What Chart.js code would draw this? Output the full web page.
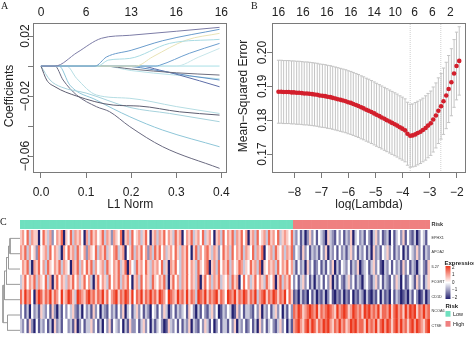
<!DOCTYPE html>
<html>
<head>
<meta charset="utf-8">
<script src="https://cdn.jsdelivr.net/npm/chart.js@4.4.1/dist/chart.umd.min.js"></script>
<style>
html, body { margin: 0; padding: 0; background: #fff; }
#wrap { position: relative; width: 474px; height: 338px; overflow: hidden; }
canvas { position: absolute; }
.tag { position: absolute; font-family: 'Liberation Serif', serif; font-size: 10px; color: #222; line-height: 1; }
</style>
</head>
<body>
<div id="wrap">
  <canvas id="cA" width="237" height="210" style="left:0;top:0"></canvas>
  <canvas id="cB" width="237" height="210" style="left:237px;top:0"></canvas>
  <canvas id="cH" width="474" height="128" style="left:0;top:210px"></canvas>
  <canvas id="cD" width="20" height="128" style="left:0;top:210px"></canvas>
  <div class="tag" style="left:1px;top:1px">A</div>
  <div class="tag" style="left:251px;top:1px">B</div>
  <div class="tag" style="left:0;top:217px">C</div>
</div>
<script>
Chart.defaults.font.family = '"Liberation Sans", Arial, sans-serif';
Chart.defaults.color = '#222';

// ---- panel A: coefficient paths ----
const l1Ticks = [0, 0.1, 0.2, 0.3, 0.4];
const l1TopLabels = ['0', '6', '13', '16', '16'];
const coefTicks = [0.02, 0, -0.02, -0.04, -0.06];
const coefTickLabels = ['0.02', '', '\u22120.02', '', '\u22120.06'];

const coefPaths = [
    [[0, 0], [0.031, 0], [0.08, 0.009], [0.134, 0.0185], [0.197, 0.0205], [0.30, 0.0232], [0.396, 0.0258]],
    [[0, 0], [0.12, 0], [0.145, 0.006], [0.2, 0.0105], [0.27, 0.0169], [0.396, 0.0245]],
    [[0, 0], [0.125, 0], [0.15, 0.004], [0.197, 0.0051], [0.285, 0.0151], [0.396, 0.0178]],
    [[0, 0], [0.21, 0], [0.248, 0.0062], [0.322, 0.0173], [0.396, 0.0218]],
    [[0, 0], [0.255, 0], [0.263, 0.0005], [0.329, 0.0085], [0.396, 0.0151]],
    [[0, 0], [0.3, 0], [0.35, 0.006], [0.396, 0.0118]],
    [[0, 0], [0.396, 0]],
    [[0, 0], [0.138, 0], [0.2, -0.002], [0.3, -0.0045], [0.396, -0.006]],
    [[0, 0], [0.18, 0], [0.26, -0.003], [0.33, -0.0065], [0.396, -0.0093]],
    [[0, 0], [0.22, 0], [0.263, -0.0027], [0.307, -0.006], [0.396, -0.0138]],
    [[0, 0], [0.0126, -0.0093], [0.031, -0.0138], [0.079, -0.02], [0.16, -0.026], [0.219, -0.0267], [0.307, -0.0305], [0.396, -0.0327]],
    [[0, 0], [0.057, 0], [0.079, -0.0082], [0.123, -0.0193], [0.197, -0.0215], [0.3, -0.027], [0.396, -0.0316]],
    [[0, 0], [0.02, -0.0093], [0.045, -0.014], [0.1, -0.018], [0.197, -0.0276], [0.285, -0.0316], [0.396, -0.0371]],
    [[0, 0], [0.04, 0], [0.064, -0.0127], [0.123, -0.0227], [0.197, -0.0338], [0.27, -0.0427], [0.396, -0.0538]],
    [[0, 0], [0.031, 0], [0.049, -0.0093], [0.079, -0.0193], [0.123, -0.0271], [0.152, -0.0304], [0.197, -0.0404], [0.27, -0.0538], [0.396, -0.0682]],
    [[0, 0], [0.14, 0], [0.2, -0.003], [0.396, -0.0085]],
];
const PATH_COLORS = ['#7c7ca6', '#6a9ccc', '#a9dbe3', '#e9e3b6', '#6d9fcf', '#c7e6ea', '#a8dfe6', '#6e6e7e',
    '#5f8fc4', '#5e6ea8', '#5d5d70', '#b5dde3', '#a6d2dc', '#8ec6d8', '#6a6a80', '#b9e2e8'];

// ---- panel B: cross-validation curve ----
const logLambda = [-8.58, -8.48, -8.39, -8.29, -8.20, -8.10, -8.01, -7.91, -7.82, -7.72,
    -7.63, -7.53, -7.44, -7.34, -7.25, -7.15, -7.06, -6.96, -6.86, -6.77,
    -6.67, -6.58, -6.48, -6.39, -6.29, -6.20, -6.10, -6.01, -5.91, -5.82,
    -5.72, -5.63, -5.53, -5.44, -5.34, -5.25, -5.15, -5.05, -4.96, -4.86,
    -4.77, -4.67, -4.58, -4.48, -4.39, -4.29, -4.20, -4.10, -4.01, -3.91,
    -3.82, -3.72, -3.63, -3.53, -3.44, -3.34, -3.25, -3.15, -3.06, -2.96,
    -2.87, -2.77, -2.68, -2.58, -2.49, -2.39, -2.30, -2.20, -2.10, -2.01, -1.91];
const cvMse = [0.1884, 0.1884, 0.1883, 0.1883, 0.1883, 0.1882, 0.1882, 0.1881, 0.1881, 0.1880,
    0.1879, 0.1879, 0.1878, 0.1877, 0.1876, 0.1875, 0.1873, 0.1872, 0.1871, 0.1869,
    0.1868, 0.1866, 0.1864, 0.1862, 0.1860, 0.1858, 0.1856, 0.1853, 0.1851, 0.1848,
    0.1845, 0.1842, 0.1838, 0.1835, 0.1831, 0.1828, 0.1824, 0.1820, 0.1816, 0.1812,
    0.1808, 0.1804, 0.1800, 0.1796, 0.1792, 0.1788, 0.1784, 0.1779, 0.1775, 0.1770,
    0.1760, 0.1754, 0.1755, 0.1758, 0.1762, 0.1766, 0.1771, 0.1777, 0.1784, 0.1791,
    0.1802, 0.1814, 0.1828, 0.1841, 0.1856, 0.1873, 0.1892, 0.1912, 0.1938, 0.1960, 0.1975];
const cvSe = [0.0093, 0.0093, 0.0093, 0.0093, 0.0093, 0.0093, 0.0093, 0.0093, 0.0093, 0.0093,
    0.0093, 0.0093, 0.0093, 0.0093, 0.0093, 0.0093, 0.0093, 0.0093, 0.0093, 0.0093,
    0.0093, 0.0093, 0.0093, 0.0093, 0.0093, 0.0093, 0.0093, 0.0093, 0.0093, 0.0093,
    0.0093, 0.0093, 0.0093, 0.0093, 0.0093, 0.0093, 0.0093, 0.0093, 0.0093, 0.0093,
    0.0093, 0.0093, 0.0093, 0.0093, 0.0093, 0.0093, 0.0093, 0.0093, 0.0093, 0.0093,
    0.0093, 0.0093, 0.0093, 0.0094, 0.0094, 0.0094, 0.0094, 0.0095, 0.0095, 0.0095,
    0.0096, 0.0096, 0.0097, 0.0097, 0.0098, 0.0098, 0.0099, 0.0099, 0.0100, 0.0100, 0.0101];
const lambdaMin = -3.72;
const lambda1se = -2.59;
const lambdaTicks = [-8, -7, -6, -5, -4, -3, -2];
const mseTicks = [0.17, 0.18, 0.19, 0.20];
const mseTickLabels = ['0.17', '0.18', '0.19', '0.20'];
const nzeroAt = [-8.58, -7.68, -6.79, -5.91, -5.05, -4.27, -3.56, -2.90, -2.24];
const nzeroLabels = ['16', '16', '16', '16', '14', '10', '6', '6', '2'];

// ---- panel C: heatmap ----
const genes = ['EPHX1', 'APOA2', 'IL27', 'FCGRT', 'CD1D', 'NCOA6', 'CTSE'];
const nLow = 120;
const nHigh = 60;
// one digit per sample, value = (digit - 4) / 2, i.e. 0 = -2 ... 8 = +2
const exprLow = [
    '564736550475362465705473656406375645736526547056374563574056365746537560465735647356405637465736574605637456375647356547',
    '657364527456374653064756375462654736573546735604573657462637574635647536574057364675365247563746573654736570456375463657',
    '465730657463754657365406573647573645637546573570643756475365647350657436574653754670563746573645763547563705465637465746',
    '357465736547360574653657463574630574653746573657405637465375465730574636574653705746365735463756047463574653754605736574',
    '758674068757685764856875387657867576857467857687584768576867587648765867585763876857678576487685768757683678576875768475',
    '241304231532415203142435213042315240321423142503413524132043142530241323415420314213524013243015241332142503241352403142',
    '324152041324130523144231502413352413042514324031522413524031342015324141325032142531402413314250324124130524134213524031',
];
const exprHigh = [
    '324130252414320532142413250342314203524123041342514213024314',
    '243152413231425032414231352413241305231435241324031432524132',
    '314230524124131425031432413250234135241032414231524132034215',
    '241352413032414250314213524132034213524132142530412431524135',
    '120312041302130241021302140213203102140312041320120314201302',
    '768756787685767876586787568767587867685776857867586878576867',
    '678657868757687865768675687867758676857868757868675786876578',
];
const riskNames = ['Low', 'High'];
const RISK_COLORS = ['#6fe0bf', '#ef8080'];

// dendrogram merges: [yA, hA, yB, hB, h] in row units / pixel heights
const dendroMerges = [
    [0.5, 0, 1.5, 0, 10],
    [1.0, 10, 2.5, 0, 11.5],
    [1.75, 11.5, 3.5, 0, 13.5],
    [2.625, 13.5, 4.5, 0, 15.5],
    [5.5, 0, 6.5, 0, 12.5],
    [3.56, 15.5, 6.0, 12.5, 17],
];

const AXIS_GREY = '#7a7a7a';
const TXT = { size: 12 };

function frame(cfg) {
    return {
        id: 'rframe',
        afterDraw(chart) {
            const { ctx, chartArea: a } = chart;
            const y = chart.scales.y;
            ctx.save();
            ctx.strokeStyle = AXIS_GREY;
            ctx.lineWidth = 1;
            ctx.strokeRect(Math.round(a.left) + 0.5, Math.round(a.top) + 0.5,
                Math.round(a.right - a.left) - 1, Math.round(a.bottom - a.top) - 1);
            ctx.fillStyle = '#222';
            ctx.font = '12px "Liberation Sans", Arial, sans-serif';
            ctx.textAlign = 'center';
            ctx.textBaseline = 'middle';
            cfg.ticks.forEach((v, i) => {
                if (!cfg.labels[i]) return;
                ctx.save();
                ctx.translate(cfg.labelX, y.getPixelForValue(v));
                ctx.rotate(-Math.PI / 2);
                ctx.fillText(cfg.labels[i], 0, 0);
                ctx.restore();
            });
            ctx.translate(cfg.titleX, (a.top + a.bottom) / 2 - 2);
            ctx.rotate(-Math.PI / 2);
            ctx.fillText(cfg.title, 0, 0);
            ctx.restore();
        },
    };
}

function setTicks(values) {
    return s => { s.ticks = values.map(v => ({ value: v })); };
}

function initPaths() {
    const xr = { min: -0.0177, max: 0.4133 };
    new Chart(document.getElementById('cA'), {
        type: 'line',
        data: {
            datasets: coefPaths.map((p, i) => ({
                data: p.map(([x, y]) => ({ x, y })),
                borderColor: PATH_COLORS[i],
                borderWidth: 1,
                pointRadius: 0,
                cubicInterpolationMode: 'monotone',
            })),
        },
        options: {
            responsive: false,
            animation: false,
            events: [],
            layout: { padding: { right: 9 } },
            plugins: { legend: { display: false }, tooltip: { enabled: false } },
            scales: {
                x: {
                    type: 'linear', position: 'bottom', ...xr,
                    afterBuildTicks: setTicks(l1Ticks),
                    afterFit: s => { s.height = 37; },
                    ticks: { callback: v => v.toFixed(1), font: TXT, padding: 7, maxRotation: 0, autoSkip: false },
                    grid: { drawOnChartArea: false, tickLength: 5, color: AXIS_GREY },
                    border: { display: false },
                    title: { display: true, text: 'L1 Norm', font: TXT, padding: { top: 0, bottom: -2 } },
                },
                xTop: {
                    type: 'linear', position: 'top', ...xr,
                    afterBuildTicks: setTicks(l1Ticks),
                    afterFit: s => { s.height = 23; },
                    ticks: { callback: (v, i) => l1TopLabels[i], font: TXT, padding: 3, maxRotation: 0, autoSkip: false },
                    grid: { display: false, drawTicks: false },
                    border: { display: false },
                },
                y: {
                    min: -0.0713, max: 0.0287,
                    afterBuildTicks: setTicks(coefTicks),
                    afterFit: s => { s.width = 33; },
                    ticks: { display: false },
                    grid: { drawOnChartArea: false, tickLength: 5, color: AXIS_GREY },
                    border: { display: false },
                },
            },
        },
        plugins: [frame({ ticks: coefTicks, labels: coefTickLabels, labelX: 25.5, titleX: 10, title: 'Coefficients' })],
    });
}

function initCv() {
    const xr = { min: -8.82, max: -1.66 };
    const yr = { min: 0.1644, max: 0.2087 };
    const bars = [];
    logLambda.forEach((x, i) => {
        bars.push({ x, y: cvMse[i] - cvSe[i] }, { x, y: cvMse[i] + cvSe[i] }, { x, y: null });
    });
    const vline = x => [{ x, y: yr.min }, { x, y: yr.max }];
    new Chart(document.getElementById('cB'), {
        type: 'line',
        data: {
            datasets: [
                {
                    type: 'scatter',
                    data: logLambda.map((x, i) => ({ x, y: cvMse[i] })),
                    backgroundColor: '#d31f2c', borderWidth: 0, pointRadius: 2.3,
                },
                {
                    type: 'scatter',
                    data: logLambda.flatMap((x, i) => [{ x, y: cvMse[i] - cvSe[i] }, { x, y: cvMse[i] + cvSe[i] }]),
                    pointStyle: 'line', pointRadius: 1.6, borderColor: '#c4c4c4', borderWidth: 1,
                },
                { data: bars, borderColor: '#c4c4c4', borderWidth: 1, pointRadius: 0, spanGaps: false },
                { data: vline(lambdaMin), borderColor: '#cfcfcf', borderWidth: 1, pointRadius: 0, borderDash: [1, 1] },
                { data: vline(lambda1se), borderColor: '#cfcfcf', borderWidth: 1, pointRadius: 0, borderDash: [1, 1] },
            ],
        },
        options: {
            responsive: false,
            animation: false,
            events: [],
            layout: { padding: { right: 8 } },
            plugins: { legend: { display: false }, tooltip: { enabled: false } },
            scales: {
                x: {
                    type: 'linear', position: 'bottom', ...xr,
                    afterBuildTicks: setTicks(lambdaTicks),
                    afterFit: s => { s.height = 37; },
                    ticks: { callback: v => String(v).replace('-', '\u2212'), font: TXT, padding: 7, maxRotation: 0, autoSkip: false },
                    grid: { drawOnChartArea: false, tickLength: 5, color: AXIS_GREY },
                    border: { display: false },
                    title: { display: true, text: 'log(Lambda)', font: TXT, padding: { top: 0, bottom: -2 } },
                },
                xTop: {
                    type: 'linear', position: 'top', ...xr,
                    afterBuildTicks: setTicks(nzeroAt),
                    afterFit: s => { s.height = 23; },
                    ticks: { callback: (v, i) => nzeroLabels[i], font: TXT, padding: 3, maxRotation: 0, autoSkip: false },
                    grid: { display: false, drawTicks: false },
                    border: { display: false },
                },
                y: {
                    ...yr,
                    afterBuildTicks: setTicks(mseTicks),
                    afterFit: s => { s.width = 35; },
                    ticks: { display: false },
                    grid: { drawOnChartArea: false, tickLength: 5, color: AXIS_GREY },
                    border: { display: false },
                },
            },
        },
        plugins: [frame({ ticks: mseTicks, labels: mseTickLabels, labelX: 25.5, titleX: 7, title: 'Mean\u2212Squared Error' })],
    });
}

const NAVY = [36, 34, 112];
const WHITE = [255, 255, 255];
const RED = [236, 56, 30];

function cellColor(v) {
    const t = Math.min(Math.abs(v) / 2, 1);
    const c = v < 0 ? NAVY : RED;
    const m = WHITE.map((w, k) => Math.round(w + (c[k] - w) * t));
    return `rgb(${m[0]},${m[1]},${m[2]})`;
}

const heatLegend = {
    id: 'heatLegend',
    afterDraw(chart) {
        const ctx = chart.ctx;
        const f = (s, b) => `${b ? 'bold ' : ''}${s}px "Liberation Sans", Arial, sans-serif`;
        ctx.save();
        ctx.fillStyle = '#222';
        ctx.textBaseline = 'middle';
        ctx.textAlign = 'left';
        ctx.font = f(6, true);
        ctx.fillText('Expressions', 444.5, 53);
        const g = ctx.createLinearGradient(0, 56, 0, 89);
        g.addColorStop(0, cellColor(2));
        g.addColorStop(0.25, cellColor(1));
        g.addColorStop(0.5, cellColor(0));
        g.addColorStop(0.75, cellColor(-1));
        g.addColorStop(1, cellColor(-2));
        ctx.fillStyle = g;
        ctx.fillRect(445.5, 56, 5, 33);
        ctx.fillStyle = '#222';
        ctx.font = f(4.5);
        ['2', '1', '0', '\u22121', '\u22122'].forEach((t, i) => ctx.fillText(t, 452, 57.7 + i * 7.4));
        ctx.font = f(6, true);
        ctx.fillText('Risk', 445.5, 96);
        riskNames.forEach((n, i) => {
            ctx.fillStyle = RISK_COLORS[i];
            ctx.fillRect(445.5, 101 + i * 10, 5, 5.7);
            ctx.fillStyle = '#222';
            ctx.font = f(5.5);
            ctx.fillText(n, 453, 104 + i * 10);
        });
        ctx.restore();
    },
};

function initHeatmap() {
    const rows = exprLow.map((s, r) => (s + exprHigh[r]).split('').map(d => (Number(d) - 4) / 2));
    const nS = nLow + nHigh;
    const samples = Array.from({ length: nS }, (_, i) => 'S' + (i + 1));
    const risk = samples.map((_, i) => (i < nLow ? 0 : 1));
    const rowTicks = [-0.4].concat(genes.map((_, r) => r + 0.5));
    const rowLabels = ['Risk'].concat(genes);
    const datasets = [{
        data: samples.map(() => [-0.7, -0.11]),
        backgroundColor: risk.map(k => RISK_COLORS[k]),
    }].concat(rows.map((vals, r) => ({
        data: vals.map(() => [r, r + 1]),
        backgroundColor: vals.map(cellColor),
    })));
    datasets.forEach(d => Object.assign(d, {
        grouped: false, borderWidth: 0, categoryPercentage: 1, barPercentage: 1,
    }));
    new Chart(document.getElementById('cH'), {
        type: 'bar',
        data: { labels: samples, datasets },
        options: {
            responsive: false,
            animation: false,
            events: [],
            layout: { padding: { left: 20, top: 10, bottom: 0, right: 0 } },
            plugins: { legend: { display: false }, tooltip: { enabled: false } },
            scales: {
                x: { display: false },
                y: { display: false, reverse: true, min: -0.7, max: 7 },
                yr: {
                    position: 'right', reverse: true, min: -0.7, max: 7,
                    afterBuildTicks: setTicks(rowTicks),
                    afterFit: s => { s.width = 44; },
                    ticks: {
                        callback: (v, i) => rowLabels[i],
                        padding: 1.5,
                        color: '#333',
                        font: c => (c.index === 0 ? { size: 5.5, weight: 'bold' } : { size: 3.8 }),
                    },
                    grid: { display: false, drawTicks: false },
                    border: { display: false },
                },
            },
        },
        plugins: [heatLegend],
    });
}

function initDendro() {
    const segs = [];
    dendroMerges.forEach(([ya, ha, yb, hb, h]) => {
        segs.push({ x: ha, y: ya }, { x: h, y: ya }, { x: h, y: yb }, { x: hb, y: yb }, { x: h, y: null });
    });
    new Chart(document.getElementById('cD'), {
        type: 'line',
        data: { datasets: [{ data: segs, borderColor: '#9a9a9a', borderWidth: 1, pointRadius: 0, spanGaps: false }] },
        options: {
            responsive: false,
            animation: false,
            events: [],
            layout: { padding: { top: 10 } },
            plugins: { legend: { display: false }, tooltip: { enabled: false } },
            scales: {
                x: { type: 'linear', display: false, reverse: true, min: 0, max: 20 },
                y: { display: false, reverse: true, min: -0.7, max: 7 },
            },
        },
    });
}

initPaths();
initCv();
initHeatmap();
initDendro();
</script>
</body>
</html>
